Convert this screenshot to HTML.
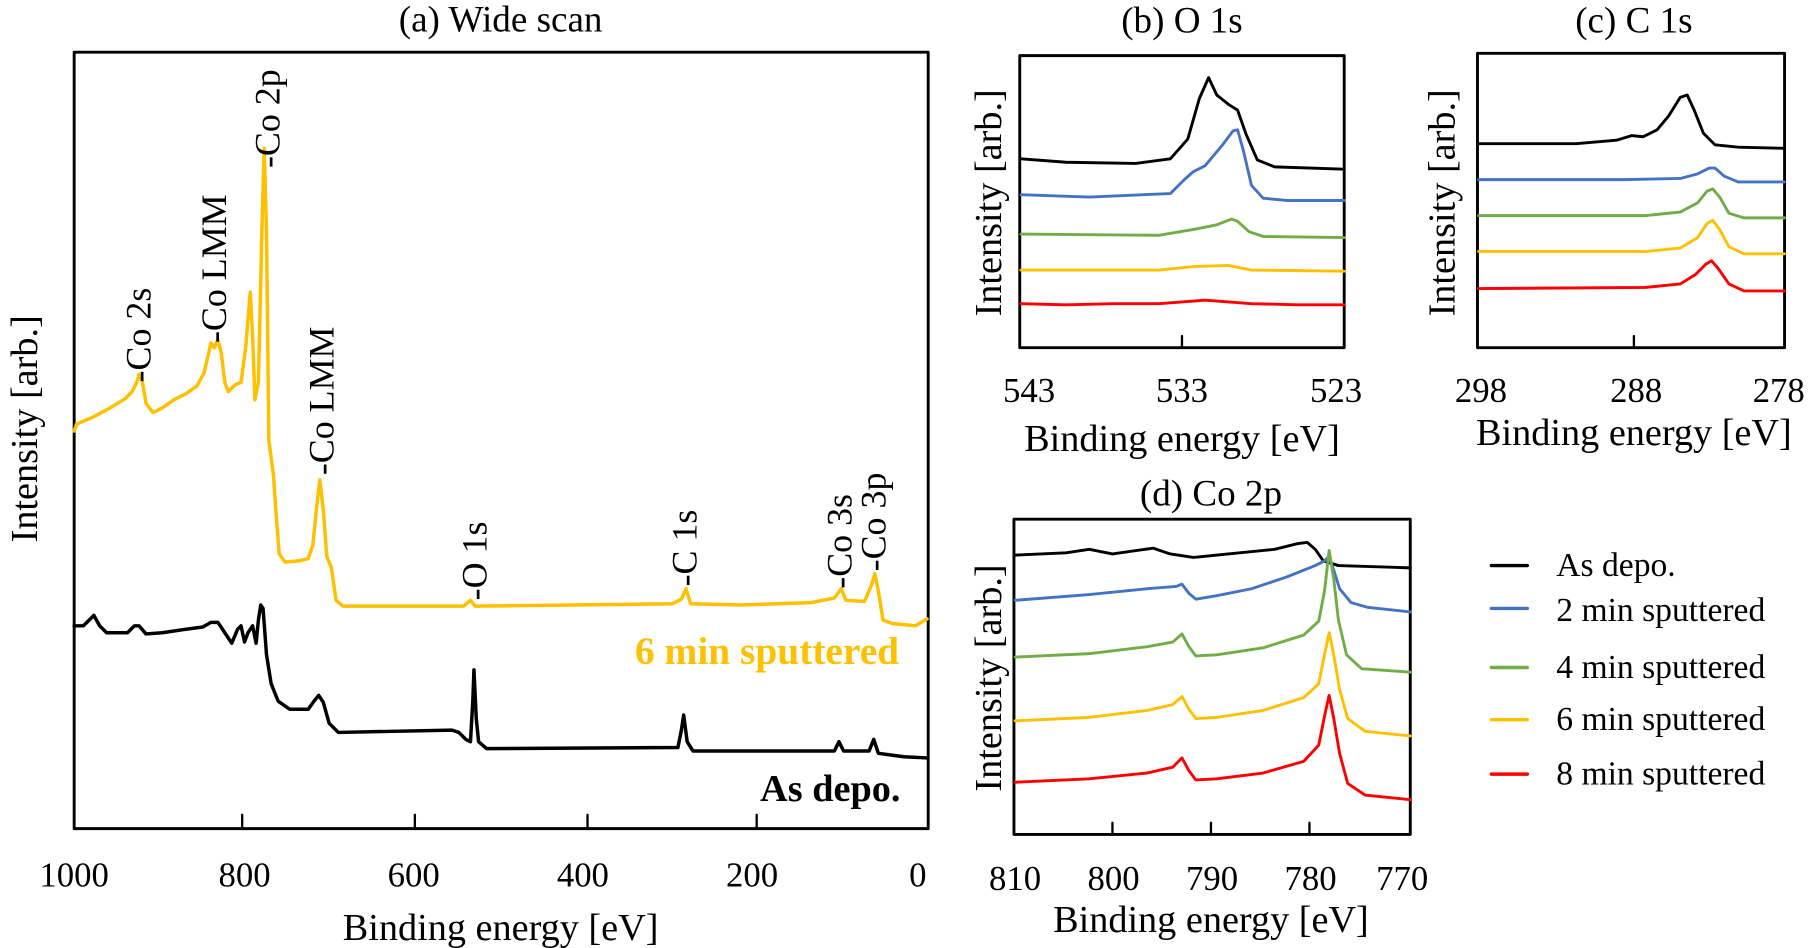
<!DOCTYPE html>
<html><head><meta charset="utf-8"><style>
html,body{margin:0;padding:0;background:#fff}
svg{display:block}
text{font-family:"Liberation Serif",serif;fill:#000}
</style></head><body>
<svg width="1817" height="948" viewBox="0 0 1568 818" preserveAspectRatio="none" xmlns="http://www.w3.org/2000/svg">
<g fill="none" stroke-linejoin="round" stroke-linecap="round">
<rect x="64" y="45" width="737" height="670" stroke="#000" stroke-width="2.5"/>
<g stroke="#000" stroke-width="2"><line x1="209" y1="715" x2="209" y2="703"/><line x1="358" y1="715" x2="358" y2="703"/><line x1="507" y1="715" x2="507" y2="703"/><line x1="653" y1="715" x2="653" y2="703"/></g>
<polyline stroke="#ffc000" stroke-width="3" points="64,372 66,366 80,360 95,352 108,344 114,338 118,330 120,323 123,330 126,348 132,356 140,352 150,345 160,340 170,333 176,322 180,305 182,296 185,300 188,293 191,305 194,330 197,338 203,332 208,330 212,300 216,252 218,290 220,345 223,330 226,200 228,128 230,200 232,380 236,410 238,440 241,478 246,485 258,484 266,482 270,470 273,440 276,414 279,440 282,480 286,490 290,518 296,523 400,523 406,518 410,523 580,521 588,517 592,508 596,521 640,522 700,520 720,516 726,508 730,518 746,519 752,505 755,495 758,510 762,535 770,538 790,540 800,534"/>
<polyline stroke="#000" stroke-width="3" points="64,540 72,540 78,534 81,531 86,540 92,546 110,546 116,540 120,540 126,547 140,546 160,543 175,541 182,537 188,537 194,546 200,555 205,543 208,540 211,554 214,546 218,540 221,555 223,535 225,522 227,525 230,565 234,590 240,605 250,612 266,612 271,605 275,600 279,606 284,624 292,632 390,630 396,632 402,638 406,640 408,605 409,578 411,620 413,640 420,646 585,645 588,630 590,617 593,640 598,648 720,648 724,640 728,648 750,648 754,638 758,650 780,653 800,654"/>
<rect x="880" y="48" width="280" height="252" stroke="#000" stroke-width="2.5"/>
<line x1="1020" y1="300" x2="1020" y2="290" stroke="#000" stroke-width="2"/>
<polyline stroke="#000" stroke-width="2.5" points="881,137 920,140 980,141 1010,137 1025,120 1035,85 1043,67 1050,82 1060,90 1068,95 1075,115 1085,138 1100,144 1160,146"/>
<polyline stroke="#4472c4" stroke-width="2.5" points="881,168 940,170 1010,167 1022,155 1030,148 1040,143 1055,125 1064,113 1068,112 1073,130 1080,160 1090,171 1110,173 1160,173"/>
<polyline stroke="#70ad47" stroke-width="2.5" points="881,202 1000,203 1030,198 1050,194 1063,189 1068,191 1078,200 1090,204 1160,205"/>
<polyline stroke="#ffc000" stroke-width="2.5" points="881,233 1000,233 1030,230 1060,229 1080,233 1160,234"/>
<polyline stroke="#ff0000" stroke-width="2.5" points="881,262 920,263 960,262 1000,262 1040,259 1080,262 1120,263 1160,263"/>
<rect x="1275" y="46" width="265" height="254" stroke="#000" stroke-width="2.5"/>
<line x1="1410" y1="300" x2="1410" y2="290" stroke="#000" stroke-width="2"/>
<polyline stroke="#000" stroke-width="2.5" points="1276,124 1360,124 1395,121 1408,117 1418,118 1430,112 1440,100 1450,84 1456,82 1462,95 1470,115 1480,125 1500,127 1540,128"/>
<polyline stroke="#4472c4" stroke-width="2.5" points="1276,155 1400,155 1450,154 1465,150 1475,145 1480,145 1488,152 1500,157 1540,157"/>
<polyline stroke="#70ad47" stroke-width="2.5" points="1276,186 1420,186 1450,183 1465,175 1473,165 1478,163 1484,170 1492,184 1505,188 1540,188"/>
<polyline stroke="#ffc000" stroke-width="2.5" points="1276,217 1420,217 1450,214 1465,205 1473,193 1478,190 1484,198 1492,213 1505,219 1540,219"/>
<polyline stroke="#ff0000" stroke-width="2.5" points="1276,249 1420,248 1450,245 1463,237 1472,228 1477,225 1483,232 1492,245 1505,251 1540,251"/>
<rect x="875" y="448" width="342" height="272" stroke="#000" stroke-width="2.5"/>
<g stroke="#000" stroke-width="2"><line x1="960" y1="720" x2="960" y2="710"/><line x1="1045" y1="720" x2="1045" y2="710"/><line x1="1130" y1="720" x2="1130" y2="710"/></g>
<polyline stroke="#000" stroke-width="2.5" points="876,479 920,477 940,474 960,478 995,473 1010,478 1030,481 1060,478 1100,474 1120,469 1128,468 1135,474 1142,484 1155,488 1217,490"/>
<polyline stroke="#4472c4" stroke-width="2.5" points="876,518 940,513 990,508 1015,506 1020,504 1026,512 1032,517 1050,514 1080,508 1110,498 1135,488 1143,484 1147,480 1151,492 1156,508 1166,520 1180,524 1217,528"/>
<polyline stroke="#70ad47" stroke-width="2.5" points="876,567 940,564 990,558 1012,554 1020,547 1026,558 1032,566 1050,565 1090,559 1125,548 1138,536 1143,510 1147,475 1151,500 1155,535 1162,565 1175,577 1217,580"/>
<polyline stroke="#ffc000" stroke-width="2.5" points="876,622 940,619 990,613 1012,608 1020,601 1026,612 1032,620 1050,619 1090,613 1125,602 1138,590 1143,565 1147,546 1151,565 1156,595 1163,620 1178,631 1217,635"/>
<polyline stroke="#ff0000" stroke-width="2.5" points="876,675 940,672 990,667 1012,662 1020,654 1026,665 1032,673 1050,672 1090,667 1125,657 1138,643 1143,618 1147,600 1151,620 1156,650 1163,676 1178,686 1217,690"/>
<g stroke-width="3"><line x1="1287" y1="488" x2="1318" y2="488" stroke="#000"/><line x1="1287" y1="525" x2="1318" y2="525" stroke="#4472c4"/><line x1="1287" y1="576" x2="1318" y2="576" stroke="#70ad47"/><line x1="1287" y1="621" x2="1318" y2="621" stroke="#ffc000"/><line x1="1287" y1="668" x2="1318" y2="668" stroke="#ff0000"/></g>
</g>
<g font-size="32" text-anchor="middle">
<text x="432" y="27">(a) Wide scan</text>
<text x="1020" y="28">(b) O 1s</text>
<text x="1410" y="28">(c) C 1s</text>
<text x="1045" y="436">(d) Co 2p</text>
</g>
<g font-size="33" text-anchor="middle">
<text transform="translate(32,370) rotate(-90)">Intensity [arb.]</text>
<text transform="translate(864,175) rotate(-90)">Intensity [arb.]</text>
<text transform="translate(1255,175) rotate(-90)">Intensity [arb.]</text>
<text transform="translate(864,585) rotate(-90)">Intensity [arb.]</text>
<text x="432" y="811">Binding energy [eV]</text>
<text x="1020" y="389">Binding energy [eV]</text>
<text x="1410" y="384">Binding energy [eV]</text>
<text x="1045" y="804">Binding energy [eV]</text>
</g>
<g font-size="30" text-anchor="middle">
<text x="64" y="765">1000</text><text x="211" y="765">800</text><text x="357" y="765">600</text><text x="503" y="765">400</text><text x="649" y="765">200</text><text x="792" y="765">0</text>
<text x="888" y="347">543</text><text x="1020" y="347">533</text><text x="1153" y="347">523</text>
<text x="1278" y="347">298</text><text x="1412" y="347">288</text><text x="1535" y="347">278</text>
<text x="876" y="768">810</text><text x="961" y="768">800</text><text x="1046" y="768">790</text><text x="1131" y="768">780</text><text x="1210" y="768">770</text>
</g>
<g font-size="31">
<text transform="translate(130,330) rotate(-90)">-Co 2s</text>
<text transform="translate(195,296) rotate(-90)">-Co LMM</text>
<text transform="translate(241,145) rotate(-90)">-Co 2p</text>
<text transform="translate(288,410) rotate(-90)">-Co LMM</text>
<text transform="translate(420,518) rotate(-90)">-O 1s</text>
<text transform="translate(601,506) rotate(-90)">-C 1s</text>
<text transform="translate(735,508) rotate(-90)">-Co 3s</text>
<text transform="translate(764,493) rotate(-90)">-Co 3p</text>
</g>
<text x="548" y="573" font-size="34" font-weight="bold" style="fill:#ffc000">6 min sputtered</text>
<text x="656" y="691" font-size="33" font-weight="bold">As depo.</text>
<g font-size="29">
<text x="1343" y="497">As depo.</text>
<text x="1343" y="536">2 min sputtered</text>
<text x="1343" y="585">4 min sputtered</text>
<text x="1343" y="630">6 min sputtered</text>
<text x="1343" y="677">8 min sputtered</text>
</g>
</svg>
</body></html>
